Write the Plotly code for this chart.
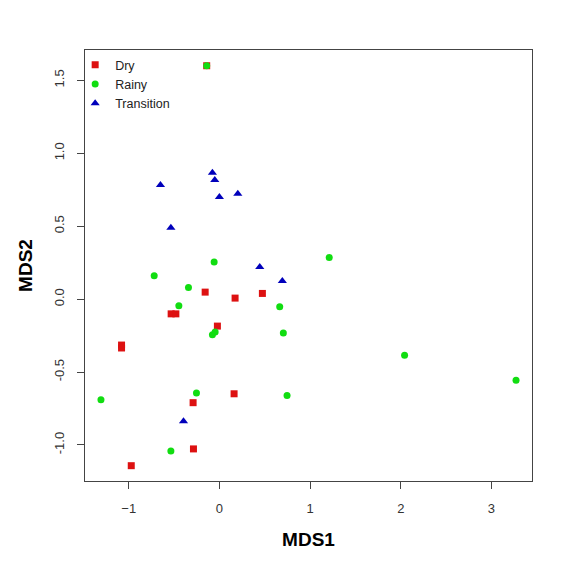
import plotly.graph_objects as go

# MDS scores
dry_x = [-0.14, -0.157, 0.173, 0.474, -0.532, -0.48, -0.022, -1.079, -1.079, 0.162, -0.29, -0.286, -0.972]
dry_y = [1.60, 0.048, 0.007, 0.039, -0.101, -0.101, -0.185, -0.315, -0.335, -0.649, -0.71, -1.027, -1.142]

rainy_x = [-0.14, -0.058, -0.719, -0.341, -0.447, 0.665, -0.077, -0.047, 0.705, -1.306, -0.253, 0.746,
           -0.535, 1.211, 2.042, 3.271]
rainy_y = [1.60, 0.255, 0.16, 0.08, -0.046, -0.053, -0.245, -0.226, -0.233, -0.69, -0.644, -0.66,
           -1.041, 0.285, -0.384, -0.557]

trans_x = [-0.077, -0.051, -0.65, 0.0, 0.203, -0.535, 0.445, 0.694, -0.396]
trans_y = [0.867, 0.817, 0.783, 0.70, 0.723, 0.49, 0.221, 0.125, -0.838]

x_ticks = [-1, 0, 1, 2, 3]
y_ticks = [-1.0, -0.5, 0.0, 0.5, 1.0, 1.5]
y_tick_text = ["-1.0", "-0.5", "0.0", "0.5", "1.0", "1.5"]

fig = go.Figure()
fig.add_trace(go.Scatter(x=dry_x, y=dry_y, mode="markers", name="Dry",
                         marker=dict(symbol="square", size=7, color="#dd1111")))
fig.add_trace(go.Scatter(x=rainy_x, y=rainy_y, mode="markers", name="Rainy",
                         marker=dict(symbol="circle", size=7, color="#11dd11")))
fig.add_trace(go.Scatter(x=trans_x, y=trans_y, mode="markers", name="Transition",
                         marker=dict(symbol="triangle-up", size=8, color="#0000bb")))

axis_common = dict(showgrid=False, zeroline=False, showline=True, linecolor="#444444",
                   linewidth=1, mirror=True, ticks="outside", ticklen=7, tickcolor="#444444",
                   ticklabelstandoff=8,
                   tickfont=dict(family="Liberation Sans, Arial", size=13, color="#333333"))

fig.update_xaxes(range=[-1.482, 3.447], tickvals=x_ticks,
                 title=dict(text="<b>MDS1</b>", standoff=18,
                            font=dict(family="Liberation Sans, Arial", size=19, color="black")),
                 **axis_common)
fig.update_yaxes(range=[-1.247, 1.708], tickvals=y_ticks, ticktext=y_tick_text, tickangle=-90,
                 title=dict(text="<b>MDS2</b>", standoff=14,
                            font=dict(family="Liberation Sans, Arial", size=19, color="black")),
                 **axis_common)

# page body adds an 8px offset, so the figure is sized to fit the 567px window
fig.update_layout(
    width=559, height=559,
    margin=dict(l=77, r=35, t=42, b=86),
    plot_bgcolor="white", paper_bgcolor="white",
    legend=dict(x=-0.022, y=1.0, xanchor="left", yanchor="top", bgcolor="rgba(0,0,0,0)",
                font=dict(family="Liberation Sans, Arial", size=12.5, color="#222222"),
                tracegroupgap=0, itemwidth=30),
)

fig.write_html("out.html")
